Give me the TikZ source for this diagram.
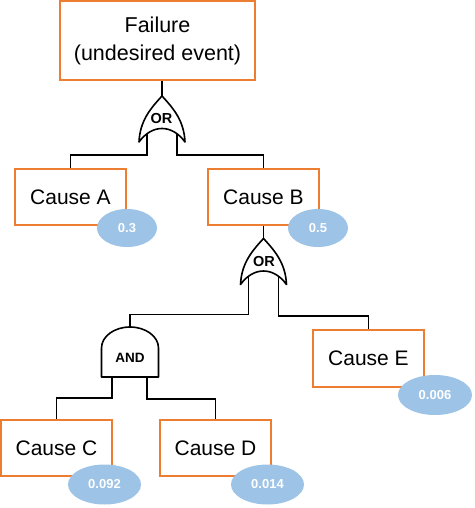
\documentclass[tikz,border=0pt]{standalone}
\usepackage{fontspec}
\setmainfont{Liberation Sans}
\usetikzlibrary{shapes.geometric}
\definecolor{boxorange}{HTML}{ED7D31}
\definecolor{probblue}{HTML}{9DC3E6}
\begin{document}
\begin{tikzpicture}[x=1pt,y=-1pt,
  wire/.style={draw=black,line width=1.9pt},
  gateline/.style={draw=black,line width=1.6pt,fill=white,line join=round},
  eventbox/.style={draw=boxorange,line width=1.7pt,fill=white,rectangle,inner sep=0pt,
     minimum width=111pt,minimum height=56pt,font=\fontsize{21}{25}\selectfont,align=center},
  prob/.style={ellipse,fill=probblue,draw=none,inner sep=0pt,text=white,
     font=\fontsize{13}{15}\selectfont\bfseries},
  gatelabel/.style={inner sep=0pt,font=\fontsize{14.5}{16}\selectfont\bfseries},
  orgate/.pic={
    \path[gateline] (-23,23) .. controls (-22,2) and (-12,-10) .. (0,-23)
       .. controls (12,-10) and (22,2) .. (23,23)
       .. controls (10,5) and (-10,5) .. cycle;
    \coordinate (-tip) at (0,-23);
    \coordinate (-in1) at (-15,15);
    \coordinate (-in2) at (15,15);
  },
  andgate/.pic={
    \path[gateline] (-28.5,50) -- (-28.5,21) .. controls (-28.5,9.4) and (-15.7,0) .. (0,0)
       .. controls (15.7,0) and (28.5,9.4) .. (28.5,21) -- (28.5,50) -- cycle;
    \coordinate (-tip) at (0,0);
    \coordinate (-in1) at (-18,50);
    \coordinate (-in2) at (17,50);
  }]
\useasboundingbox (0,0) rectangle (474,508);
\fill[white] (0,0) rectangle (474,508);

% event boxes
\node[eventbox,minimum width=195pt,minimum height=79pt,font=\fontsize{21.5}{28}\selectfont]
  (top) at (157.5,40.5) {Failure\\(undesired event)};
\node[eventbox] (ca) at (70.5,197) {Cause A};
\node[eventbox] (cb) at (263.5,197) {Cause B};
\node[eventbox] (cc) at (56.5,448) {Cause C};
\node[eventbox] (cd) at (215.5,448) {Cause D};
\node[eventbox,minimum height=57pt] (ce) at (368.5,358.5) {Cause E};

% gates
\pic (g1) at (162,119) {orgate};
\pic (g2) at (263.5,261.5) {orgate};
\pic (ga) at (130,327) {andgate};
\node[gatelabel] (g1lab) at (161.5,118.5) {OR};
\node[gatelabel] (g2lab) at (264,262) {OR};
\node[gatelabel,font=\fontsize{13.5}{15}\selectfont\bfseries] (galab) at (130,358) {AND};

% connectors
\draw[wire] (top.south -| g1-tip) -- (g1-tip);
\draw[wire] (g1-in1) -- ++(0,21) -| (ca.north);
\draw[wire] (g1-in2) -- ++(0,21) -| (cb.north);
\draw[wire] (cb.south) -- (g2-tip);
\draw[wire] (g2-in1) -- ++(0,38) -| (ga-tip);
\draw[wire] (g2-in2) -- ++(0,39.5) -| (ce.north);
\draw[wire] (ga-in1) -- ++(0,21) -| (cc.north);
\draw[wire] (ga-in2) -- ++(0,22) -| (cd.north);

% probabilities
\node[prob,minimum width=60pt,minimum height=38pt] (pa) at (127,228) {0.3};
\node[prob,minimum width=60pt,minimum height=38pt] (pb) at (318,228) {0.5};
\node[prob,minimum width=73pt,minimum height=40pt] (pc) at (104.5,484.5) {0.092};
\node[prob,minimum width=73pt,minimum height=40pt] (pd) at (267.5,484.5) {0.014};
\node[prob,minimum width=74pt,minimum height=40pt] (pe) at (435,395) {0.006};
\end{tikzpicture}
\end{document}
